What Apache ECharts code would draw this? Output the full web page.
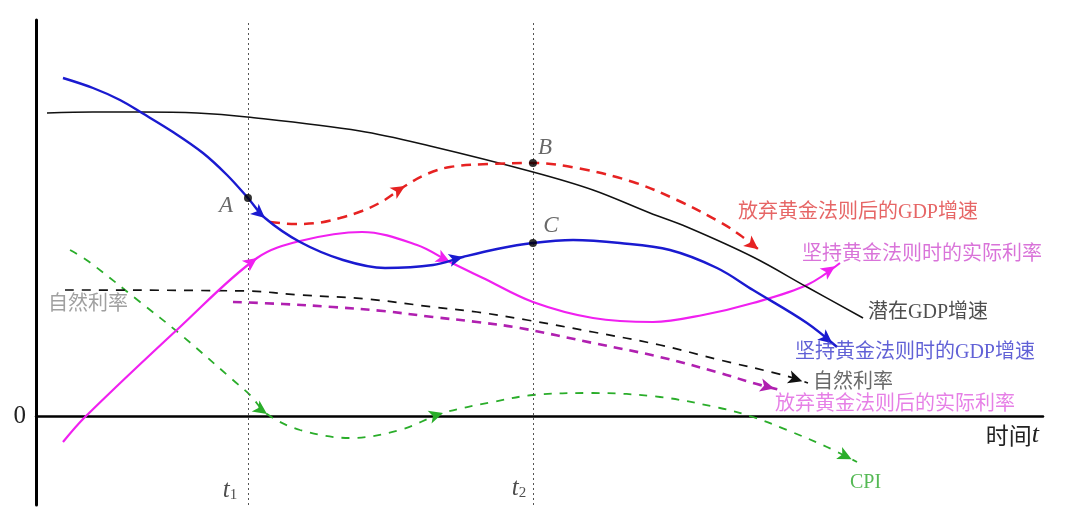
<!DOCTYPE html>
<html><head><meta charset="utf-8">
<script src="https://cdn.jsdelivr.net/npm/echarts@6/dist/echarts.min.js"></script>
<style>html,body{margin:0;padding:0;background:#fff}#c{width:1080px;height:522px}</style>
</head><body><div id="c"></div>
<script>
// ---- data (time units on x, rate units on y; 0 = zero line) ----
const tMarks = [21.05, 49.35];
const tSubs = ['1', '2'];
const zeroTick = [0];

const potX = [1.09, 5.66, 10.33, 15.99, 20.95, 32.17, 39.13, 49.35, 55.31, 60.97, 64.65, 71.20, 76.56, 82.13];
const potY = [6.06, 6.08, 6.08, 6.06, 5.98, 5.70, 5.40, 4.88, 4.52, 4.06, 3.78, 3.18, 2.58, 1.96];

const blueX = [2.68, 5.66, 8.34, 10.53, 13.60, 16.58, 18.97, 21.05, 22.74, 26.22, 30.49, 34.66, 39.42, 42.40, 45.78, 49.35, 53.33, 57.99, 62.96, 67.63, 71.20, 76.56, 79.54];
const blueY = [6.76, 6.56, 6.32, 6.06, 5.68, 5.26, 4.82, 4.36, 3.96, 3.48, 3.12, 2.96, 3.02, 3.18, 3.34, 3.46, 3.52, 3.46, 3.32, 2.96, 2.52, 1.86, 1.38];

const redX = [23.24, 25.72, 27.90, 30.19, 32.37, 34.46, 36.64, 38.83, 41.11, 45.08, 49.35, 53.72, 59.29, 63.65, 67.92, 69.91, 72.19];
const redY = [3.88, 3.84, 3.86, 3.96, 4.10, 4.30, 4.60, 4.84, 4.98, 5.04, 5.06, 4.96, 4.68, 4.32, 3.88, 3.62, 3.26];

const magX = [2.68, 4.87, 14.30, 21.95, 26.22, 32.37, 37.84, 41.11, 44.39, 49.35, 55.31, 61.27, 66.24, 71.20, 76.56, 79.84];
const magY = [-0.52, -0.02, 1.78, 3.16, 3.50, 3.68, 3.42, 3.08, 2.76, 2.28, 1.96, 1.88, 2.02, 2.26, 2.62, 3.06];

const natX = [2.88, 20.95, 26.22, 32.87, 39.42, 43.79, 48.76, 55.31, 61.97, 67.92, 74.18, 76.66];
const natY = [2.52, 2.50, 2.42, 2.34, 2.18, 2.08, 1.92, 1.68, 1.42, 1.12, 0.82, 0.66];

const purX = [19.56, 24.53, 29.49, 34.46, 39.42, 43.79, 48.06, 55.31, 61.97, 67.92, 71.20, 73.88];
const purY = [2.28, 2.24, 2.18, 2.10, 1.98, 1.88, 1.76, 1.46, 1.18, 0.86, 0.66, 0.52];

const cpiX = [3.38, 5.16, 10.33, 14.30, 19.56, 21.25, 22.94, 26.22, 31.18, 36.15, 40.42, 45.38, 49.35, 55.31, 61.97, 67.92, 71.20, 74.58, 78.55, 81.53];
const cpiY = [3.32, 3.10, 2.28, 1.64, 0.72, 0.42, 0.04, -0.28, -0.44, -0.28, 0.06, 0.28, 0.42, 0.46, 0.38, 0.16, -0.02, -0.28, -0.62, -0.92];

// ---- styling ----
const SERIF = "'Liberation Serif','DejaVu Serif','Noto Sans CJK SC',serif";
const X_MIN = 0, X_MAX = 100, Y_MIN = -1.78, Y_MAX = 7.92;

const curves = [
  {name:'CPI', x:cpiX, y:cpiY, color:'#2aad2a', width:1.8, type:[8,8], arrows:[6,10,19],
   label:{text:'CPI', off:[-7,21], color:'#2aa82a'}},
  {name:'放弃黄金法则后的实际利率', x:purX, y:purY, color:'#b020b0', width:2.6, type:[9,7], arrows:[11],
   label:{text:'放弃黄金法则后的实际利率', off:[-5,15], color:'#e060e0'}},
  {name:'自然利率', x:natX, y:natY, color:'#111', width:1.7, type:[9,8], arrows:[11],
   label:{text:'自然利率', off:[5,0], color:'#444'}},
  {name:'坚持黄金法则时的实际利率', x:magX, y:magY, color:'#f020f0', width:2.2, type:'solid', arrows:[3,7,15],
   label:{text:'坚持黄金法则时的实际利率', off:[-38,-8], color:'#d050d0'}},
  {name:'潜在GDP增速', x:potX, y:potY, color:'#111', width:1.5, type:'solid', arrows:[],
   label:{text:'潜在GDP增速', off:[5,-5], color:'#222'}},
  {name:'放弃黄金法则后的GDP增速', x:redX, y:redY, color:'#e62222', width:2.5, type:[10,7], arrows:[6,16],
   label:{text:'放弃黄金法则后的GDP增速', off:[-25,-40], color:'#e04040'}},
  {name:'坚持黄金法则时的GDP增速', x:blueX, y:blueY, color:'#1a1ad0', width:2.4, type:'solid', arrows:[8,13,22],
   label:{text:'坚持黄金法则时的GDP增速', off:[-42,6], color:'#3a3acc'}}
];

function makeData(c, rots) {
  return c.x.map((x, i) => {
    const k = c.arrows.indexOf(i);
    if (k < 0) return {value:[x, c.y[i]], symbol:'none'};
    const r = rots ? rots[k] : {deg:0, off:[0,0]};
    return {value:[x, c.y[i]], symbol:'arrow', symbolSize:[10,14], symbolRotate:r.deg,
            symbolOffset:r.off, itemStyle:{color:c.color}};
  });
}
function lineSeries(c, rots, z) {
  return {type:'line', name:c.name, data:makeData(c, rots), smooth:0.35, symbol:'none',
    showSymbol:true, silent:true, animation:false, z:z, clip:false,
    lineStyle:{color:c.color, width:c.width, type:c.type, cap:'butt'},
    itemStyle:{color:c.color}, emphasis:{disabled:true}};
}

function notesSeries() {
  const data = curves.map(c => {
    const n = c.x.length;
    return {value:[c.x[n-1], c.y[n-1]],
      label:{show:true, position:'right', distance:0, offset:c.label.off, align:'left',
        verticalAlign:'middle', formatter:c.label.text, color:c.label.color,
        fontFamily:SERIF, fontSize:20}};
  });
  data.push({value:[natX[0], natY[0]],
    label:{show:true, position:'right', distance:0, offset:[-17,15], align:'left',
      verticalAlign:'middle', formatter:'自然利率', color:'#888', fontFamily:SERIF, fontSize:20}});
  const tOff = [[-18,-15], [-14,-17]];
  tMarks.forEach((t, i) => data.push({value:[t, Y_MIN],
    label:{show:true, position:'inside', offset:tOff[i], align:'center', verticalAlign:'middle',
      formatter:'{t|t}{s|' + tSubs[i] + '}',
      rich:{t:{fontFamily:SERIF, fontStyle:'italic', fontSize:25, color:'#222', lineHeight:26},
            s:{fontFamily:SERIF, fontSize:15, color:'#222', lineHeight:26, padding:[10,0,0,0]}}}}));
  return {type:'scatter', symbol:'circle', symbolSize:0, silent:true, animation:false, z:10,
    itemStyle:{color:'rgba(0,0,0,0)'}, data};
}

function pointsSeries() {
  const pts = [
    {v:[blueX[7], blueY[7]], t:'A', off:[-22,8]},
    {v:[redX[10], redY[10]], t:'B', off:[12,-15]},
    {v:[blueX[15], blueY[15]], t:'C', off:[18,-17]}
  ];
  return {type:'scatter', symbol:'circle', symbolSize:8, silent:true, animation:false, z:12,
    itemStyle:{color:'#000'},
    data: pts.map(p => ({value:p.v, label:{show:true, position:'inside', offset:p.off,
      formatter:p.t, fontFamily:SERIF, fontStyle:'italic', fontSize:23, color:'#444'}}))};
}

function guideSeries() {
  return {type:'line', data:[], silent:true, animation:false, z:1,
    markLine:{silent:true, symbol:'none', animation:false, label:{show:false},
      lineStyle:{type:[2,3], color:'#555', width:1},
      data: tMarks.map(t => ({xAxis:t}))}};
}

function buildOption(rotsAll) {
  const series = [guideSeries()];
  curves.forEach((c, i) => series.push(lineSeries(c, rotsAll ? rotsAll[i] : null, 3 + i)));
  series.push(pointsSeries());
  series.push(notesSeries());
  return {
    animation:false,
    backgroundColor:'#fff',
    grid:{left:36, right:37, top:20, bottom:17, containLabel:false},
    xAxis:{type:'value', min:X_MIN, max:X_MAX, splitLine:{show:false},
      axisTick:{show:false}, axisLabel:{show:false},
      axisLine:{show:true, onZero:true, lineStyle:{color:'#000', width:2.5}},
      name:'{a|时间}{b|t}', nameLocation:'end', nameGap:0,
      nameTextStyle:{align:'right', verticalAlign:'top', padding:[6,4,0,0],
        rich:{a:{fontFamily:"'Noto Sans CJK SC',sans-serif", fontSize:23, color:'#222'},
              b:{fontFamily:SERIF, fontStyle:'italic', fontSize:26, color:'#222'}}}},
    yAxis:{type:'value', min:Y_MIN, max:Y_MAX, splitLine:{show:false},
      axisTick:{show:false},
      axisLabel:{show:true, customValues:zeroTick, formatter:v => (Math.abs(v) < 1e-9 ? '0' : ''),
        margin:10, fontFamily:SERIF, fontSize:25, color:'#222', verticalAlign:'middle', padding:[16,0,0,0]},
      axisLine:{show:true, onZero:false, lineStyle:{color:'#000', width:3}}},
    series
  };
}

const chart = echarts.init(document.getElementById('c'), null, {renderer:'canvas'});
chart.setOption(buildOption(null));

const rotsAll = curves.map(c => c.arrows.map(i => {
  const n = c.x.length;
  const isEnd = i === n - 1;
  const a = Math.max(i - 1, 0), b = isEnd ? i : Math.min(i + 1, n - 1);
  const p0 = chart.convertToPixel({gridIndex:0}, [c.x[a], c.y[a]]);
  const p1 = chart.convertToPixel({gridIndex:0}, [c.x[b], c.y[b]]);
  const dx = p1[0] - p0[0], dy = p1[1] - p0[1];
  const L = Math.hypot(dx, dy) || 1;
  const deg = (-Math.PI / 2 - Math.atan2(dy, dx)) * 180 / Math.PI;
  const back = isEnd ? 6 : 0;
  return {deg, off:[-dx / L * back, -dy / L * back]};
}));
chart.setOption(buildOption(rotsAll), true);
</script>
</body></html>
